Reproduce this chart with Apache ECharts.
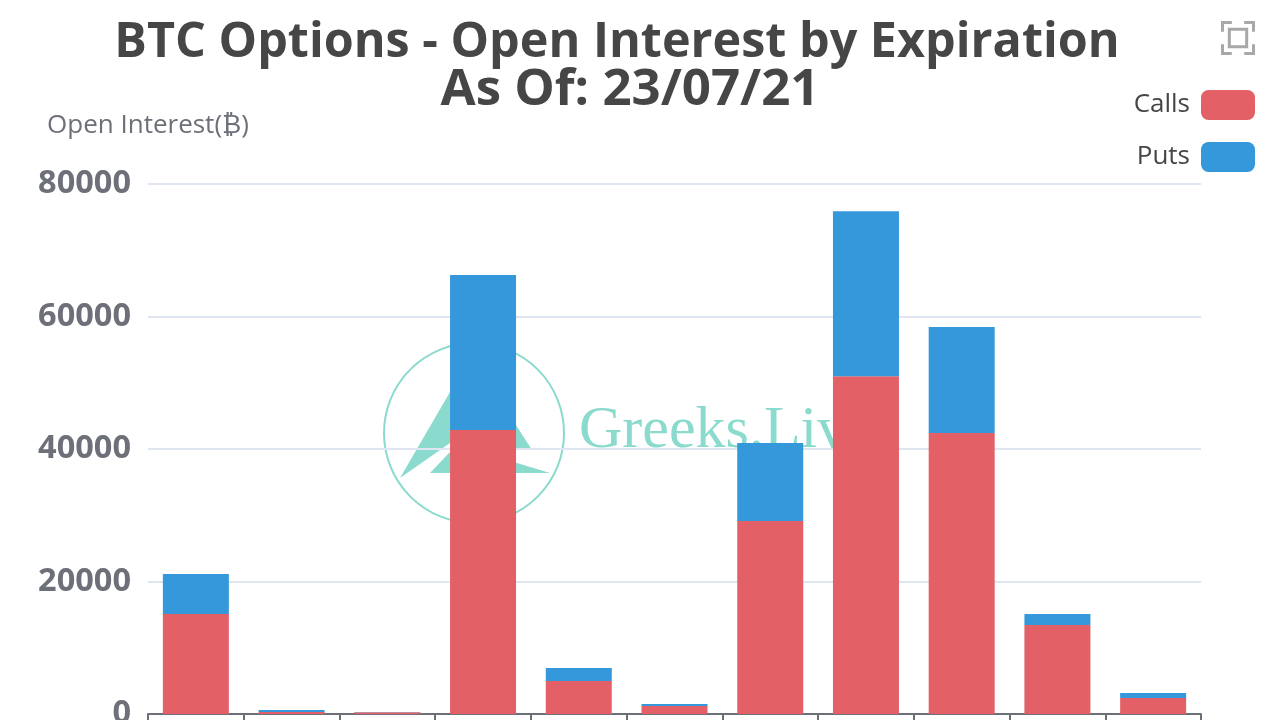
<!DOCTYPE html>
<html>
<head>
<meta charset="utf-8">
<title>BTC Options - Open Interest by Expiration</title>
<script src="https://cdn.jsdelivr.net/npm/echarts@6/dist/echarts.min.js"></script>
<style>
html, body { margin: 0; padding: 0; background: #fff; }
#main { width: 1280px; height: 720px; }
</style>
</head>
<body>
<div id="main"></div>
<script>
// expiry labels sit below the crop of the reference, so they are only numbered here
var categories = ['1', '2', '3', '4', '5', '6', '7', '8', '9', '10', '11'];
var calls = [15090, 300, 250, 42860, 4980, 1200, 29120, 51000, 42400, 13430, 2400];
var puts = [6040, 300, 50, 23390, 1960, 300, 11780, 24900, 16000, 1660, 770];
var yTicks = [0, 20000, 40000, 60000, 80000];

var fontName = '"Open Sans", "DejaVu Sans", sans-serif';
var logoColor = '#8adacd';

var myChart = echarts.init(document.getElementById('main'));

myChart.setOption({
	animation: false,
	backgroundColor: '#fff',
	title: [{
		text: 'BTC Options - Open Interest by Expiration',
		left: 612,
		top: 14,
		textAlign: 'center',
		textStyle: { fontFamily: fontName, fontSize: 48.5, fontWeight: 'bold', color: '#464646' }
	}, {
		text: 'As Of: 23/07/21',
		left: 625,
		top: 60,
		textAlign: 'center',
		textStyle: { fontFamily: fontName, fontSize: 51, fontWeight: 'bold', color: '#464646' }
	}],
	legend: {
		orient: 'vertical',
		right: 20,
		top: 85,
		align: 'right',
		itemWidth: 54,
		itemHeight: 30,
		itemGap: 22,
		icon: 'roundRect',
		textStyle: { fontFamily: fontName, fontSize: 26, color: '#464646', padding: [0, 6, 0, 0] },
		data: ['Calls', 'Puts']
	},
	toolbox: {
		right: 9,
		top: 5,
		itemSize: 31,
		feature: {
			myFull: {
				show: true,
				title: '',
				icon: 'path://M0 30V0H30M70 0H100V30M100 70V100H70M30 100H0V70M22 22H78V78H22Z',
				onclick: function() {}
			}
		},
		iconStyle: { color: 'none', borderColor: '#a8a8a8', borderWidth: 3 }
	},
	grid: { left: 148, right: 79, top: 184, bottom: 6, outerBoundsMode: 'none' },
	xAxis: {
		type: 'category',
		data: categories,
		axisLine: { lineStyle: { color: '#6E7079', width: 2 } },
		axisTick: { show: true, alignWithLabel: false, length: 6, lineStyle: { color: '#6E7079', width: 2 } },
		axisLabel: { show: false }
	},
	yAxis: {
		type: 'value',
		min: yTicks[0],
		max: yTicks[yTicks.length - 1],
		interval: 20000,
		name: 'Open Interest(₿)',
		nameLocation: 'end',
		nameGap: 45,
		nameTextStyle: { fontFamily: fontName, fontSize: 26, color: '#6E7079', align: 'left', padding: [0, 0, 0, -101] },
		axisLine: { show: false },
		axisTick: { show: false },
		axisLabel: {
			fontFamily: fontName, fontSize: 32.5, fontWeight: 'bold', color: '#6E7079', margin: 17,
			padding: [0, 0, 10, 0],
			formatter: function(value) { return String(value); }
		},
		splitLine: { lineStyle: { color: '#E0E6F1', width: 2 } }
	},
	// watermark, sits behind the grid lines and the bars
	graphic: [
		{ type: 'circle', z: -1, shape: { cx: 474, cy: 433, r: 90 }, style: { fill: 'none', stroke: logoColor, lineWidth: 2 } },
		{ type: 'polygon', z: -1, shape: { points: [[450, 392], [400, 478], [450, 443]] }, style: { fill: logoColor } },
		{ type: 'polygon', z: -1, shape: { points: [[430, 473], [450, 452], [517, 463], [550, 473]] }, style: { fill: logoColor } },
		{ type: 'polygon', z: -1, shape: { points: [[516, 425], [532, 450], [516, 450]] }, style: { fill: logoColor } },
		{ type: 'text', z: -1, style: { text: 'Greeks.Live', x: 579, y: 401, fill: logoColor, font: '60px "Liberation Serif", serif' } }
	],
	series: [{
		name: 'Calls',
		type: 'bar',
		stack: 'oi',
		barWidth: 66,
		itemStyle: { color: '#e36166' },
		data: calls
	}, {
		name: 'Puts',
		type: 'bar',
		stack: 'oi',
		barWidth: 66,
		itemStyle: { color: '#3498db' },
		data: puts
	}]
});
</script>
</body>
</html>
